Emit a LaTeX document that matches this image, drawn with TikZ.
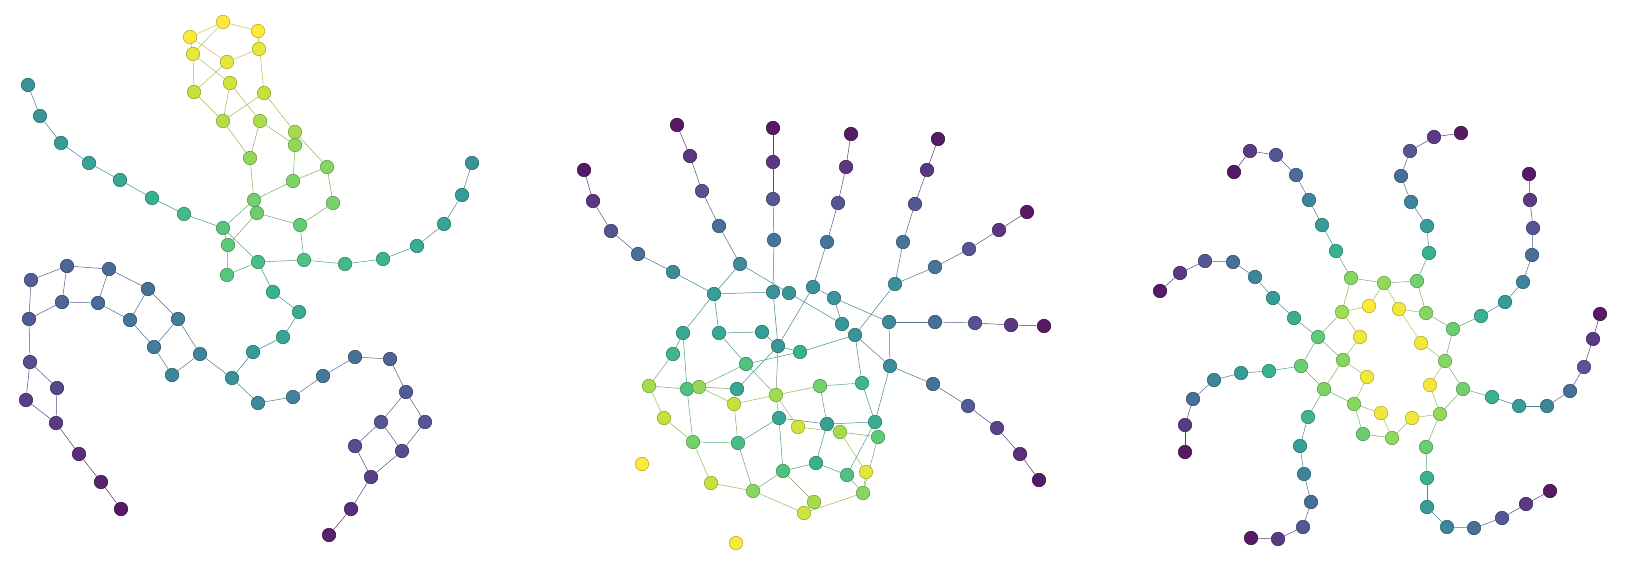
\documentclass[tikz,border=0pt]{standalone}
\usepackage{tikz}
\pgfdeclarelayer{bg}
\pgfdeclarelayer{edges}
\pgfsetlayers{bg,edges,main}
\definecolor{vir0}{HTML}{440154}
\definecolor{vir1}{HTML}{482475}
\definecolor{vir2}{HTML}{414487}
\definecolor{vir3}{HTML}{355F8D}
\definecolor{vir4}{HTML}{2A788E}
\definecolor{vir5}{HTML}{21918C}
\definecolor{vir6}{HTML}{22A884}
\definecolor{vir7}{HTML}{44BF70}
\definecolor{vir8}{HTML}{7AD151}
\definecolor{vir9}{HTML}{BDDF26}
\definecolor{vir10}{HTML}{FDE725}
\tikzset{
  nd/.style={circle,minimum size=13.5pt,inner sep=0pt,fill=#1!90!white,draw=#1!72!black,line width=0.5pt},
  ed/.style={line width=0.5pt}
}
\newcommand\Nd[4]{%
  \pgfmathtruncatemacro\vlo{min(9,floor(#4/10))}%
  \pgfmathtruncatemacro\vhi{\vlo+1}%
  \pgfmathtruncatemacro\vfr{100-(#4-10*\vlo)*10}%
  \colorlet{col#1}{vir\vlo!\vfr!vir\vhi}%
  \node[nd=col#1] (#1) at (#2,#3) {};}
\newcommand\Ed[2]{\edef\ea{#1}\edef\eb{#2}%
  \colorlet{ectmp}{col\ea!50!col\eb}%
  \draw[ed,draw=ectmp!65!gray] (\ea) -- (\eb);}
\begin{document}
\begin{tikzpicture}[x=1pt,y=-1pt]
\begin{pgfonlayer}{bg}
\fill[white] (0,0) rectangle (1626,564);
\end{pgfonlayer}
\useasboundingbox (0,0) rectangle (1626,564);
% ---------------- panel 1
\Nd{PA1}{223}{22}{100}\Nd{PA2}{190}{37}{100}\Nd{PA3}{193}{54}{96}\Nd{PA4}{227}{62}{96}
\Nd{PA5}{230}{83}{92}\Nd{PA6}{194}{92}{90}\Nd{PA7}{223}{121}{87}\Nd{PA8}{250}{158}{82}
\Nd{PB1}{258}{31}{100}\Nd{PB2}{259}{49}{96}\Nd{PB5}{264}{93}{90}\Nd{PB6}{260}{121}{86}
\Nd{PB7}{295}{132}{85}\Nd{PB8}{295}{145}{82}\Nd{PB10}{327}{167}{80}\Nd{PB11}{293}{181}{78}
\Nd{PB12}{254}{200}{76}\Nd{PB13}{333}{203}{77}\Nd{PB14}{257}{213}{75}\Nd{PB15}{300}{225}{73}
\Nd{PT8}{223}{228}{70}\Nd{PT9}{228}{245}{72}\Nd{PT10}{227}{275}{70}\Nd{PB17}{258}{262}{66}
\Nd{PB18}{304}{260}{68}\Nd{PB19}{345}{264}{64}\Nd{PB20}{383}{259}{61}\Nd{PB21}{417}{246}{58}
\Nd{PB22}{444}{224}{54}\Nd{PB23}{462}{195}{50}\Nd{PB24}{472}{163}{46}
\Nd{PT1}{28}{85}{45}\Nd{PT2}{40}{116}{47}\Nd{PT3}{61}{143}{50}\Nd{PT4}{89}{163}{53}
\Nd{PT5}{120}{180}{56}\Nd{PT6}{152}{198}{60}\Nd{PT7}{184}{214}{64}
\Nd{PD1}{273}{292}{60}\Nd{PD2}{299}{312}{57}\Nd{PD3}{283}{337}{54}\Nd{PD4}{253}{352}{50}
\Nd{PC13}{232}{378}{45}\Nd{PD6}{258}{403}{42}\Nd{PD7}{293}{397}{38}\Nd{PD8}{323}{376}{34}
\Nd{PD9}{355}{357}{30}\Nd{PD10}{390}{359}{25}\Nd{PD11}{406}{392}{22}\Nd{PD12}{381}{422}{20}
\Nd{PD13}{425}{422}{20}\Nd{PD14}{355}{446}{17}\Nd{PD15}{402}{451}{17}\Nd{PD16}{371}{477}{12}
\Nd{PD17}{351}{509}{6}\Nd{PD18}{329}{535}{2}
\Nd{PC1}{67}{266}{26}\Nd{PC2}{31}{280}{24}\Nd{PC3}{109}{269}{28}\Nd{PC4}{62}{302}{26}
\Nd{PC5}{98}{303}{28}\Nd{PC6}{148}{289}{31}\Nd{PC7}{29}{319}{22}\Nd{PC8}{130}{320}{32}
\Nd{PC9}{178}{319}{36}\Nd{PC10}{154}{347}{36}\Nd{PC11}{200}{354}{40}\Nd{PC12}{172}{375}{40}
\Nd{PC14}{30}{362}{17}\Nd{PC15}{57}{388}{15}\Nd{PC16}{26}{400}{12}\Nd{PC17}{56}{423}{10}
\Nd{PC18}{79}{454}{6}\Nd{PC19}{101}{482}{3}\Nd{PC20}{121}{509}{0}
% ---------------- panel 2
\Nd{QF1}{584}{170}{0}\Nd{QF2}{593}{201}{9}\Nd{QF3}{611}{231}{19}\Nd{QF4}{638}{254}{30}\Nd{QF5}{673}{272}{42}
\Nd{QE1}{677}{125}{0}\Nd{QE2}{690}{156}{9}\Nd{QE3}{702}{191}{19}\Nd{QE4}{719}{226}{30}\Nd{QE5}{740}{264}{42}
\Nd{QG}{714}{294}{52}
\Nd{QH1}{773}{128}{0}\Nd{QH2}{773}{162}{9}\Nd{QH3}{773}{199}{20}\Nd{QH4}{774}{240}{32}\Nd{QH5}{773}{292}{45}
\Nd{QI}{789}{293}{47}\Nd{QJ}{813}{287}{45}
\Nd{QK1}{851}{134}{0}\Nd{QK2}{846}{167}{9}\Nd{QK3}{838}{203}{20}\Nd{QK4}{827}{242}{32}
\Nd{QL}{834}{298}{47}
\Nd{QM1}{938}{139}{0}\Nd{QM2}{927}{170}{9}\Nd{QM3}{915}{204}{20}\Nd{QM4}{903}{242}{32}\Nd{QM5}{895}{284}{44}
\Nd{QN1}{1027}{212}{0}\Nd{QN2}{999}{230}{9}\Nd{QN3}{969}{249}{20}\Nd{QN4}{935}{267}{32}
\Nd{QO}{842}{324}{48}\Nd{QR}{855}{335}{46}\Nd{QP}{889}{322}{42}
\Nd{QQ1}{935}{322}{30}\Nd{QQ2}{975}{323}{19}\Nd{QQ3}{1011}{325}{9}\Nd{QQ4}{1044}{326}{0}
\Nd{QS}{890}{366}{43}
\Nd{QT1}{933}{384}{31}\Nd{QT2}{968}{406}{21}\Nd{QT3}{997}{428}{13}\Nd{QT4}{1020}{454}{7}\Nd{QT5}{1039}{480}{0}
\Nd{Qa1}{683}{333}{56}\Nd{Qa2}{719}{333}{56}\Nd{Qa3}{762}{332}{51}\Nd{Qa4}{778}{346}{47}
\Nd{Qa5}{800}{352}{60}\Nd{Qa6}{673}{354}{62}\Nd{Qa7}{746}{364}{68}\Nd{Qa8}{649}{386}{85}
\Nd{Qa9}{687}{389}{68}\Nd{Qa10}{699}{387}{82}\Nd{Qa11}{737}{389}{55}\Nd{Qa12}{820}{386}{76}
\Nd{Qa13}{776}{395}{84}\Nd{Qa14}{734}{404}{90}\Nd{Qa15}{664}{418}{90}\Nd{Qa16}{779}{418}{55}
\Nd{Qa17}{798}{427}{93}\Nd{Qa18}{693}{442}{76}\Nd{Qa19}{738}{443}{66}\Nd{Qa20}{642}{464}{100}
\Nd{Qa22}{783}{471}{68}\Nd{Qa23}{711}{483}{90}\Nd{Qa24}{753}{491}{80}\Nd{Qa27}{736}{543}{100}
\Nd{QW}{862}{383}{62}\Nd{QX}{827}{424}{52}\Nd{QY}{840}{432}{85}\Nd{QZ}{875}{422}{58}
\Nd{QAA}{878}{437}{72}\Nd{QAB}{816}{463}{60}\Nd{QAC}{847}{475}{68}\Nd{QAD}{866}{472}{95}
\Nd{QAE}{863}{493}{80}\Nd{QAF}{814}{502}{85}\Nd{QAG}{804}{513}{92}
% ---------------- panel 3
\Nd{Rp2}{1234}{172}{0}\Nd{Rp1}{1250}{151}{10}\Nd{Rp3}{1276}{155}{20}\Nd{Rp4}{1296}{175}{30}
\Nd{Rp5}{1309}{200}{40}\Nd{Rp6}{1322}{225}{50}\Nd{Rp7}{1336}{251}{60}\Nd{Rp8}{1351}{278}{80}
\Nd{Rq1}{1160}{291}{0}\Nd{Rq2}{1180}{273}{10}\Nd{Rq3}{1205}{261}{20}\Nd{Rq4}{1233}{262}{30}
\Nd{Rq5}{1255}{277}{40}\Nd{Rq6}{1273}{298}{50}\Nd{Rq7}{1294}{318}{58}\Nd{Rq8}{1318}{337}{72}
\Nd{Rr}{1384}{283}{82}\Nd{Rs}{1369}{306}{100}\Nd{Rt}{1342}{312}{84}\Nd{Ru}{1360}{337}{98}
\Nd{Rv1}{1461}{133}{0}\Nd{Rv2}{1434}{137}{10}\Nd{Rv3}{1410}{151}{20}\Nd{Rv4}{1401}{176}{30}
\Nd{Rv5}{1411}{202}{40}\Nd{Rv6}{1427}{226}{50}\Nd{Rv7}{1429}{253}{60}\Nd{Rv8}{1417}{281}{76}
\Nd{Rw}{1399}{309}{98}\Nd{Rx}{1426}{313}{80}\Nd{Ry}{1453}{329}{74}
\Nd{Rz1}{1481}{316}{60}\Nd{Rz2}{1505}{302}{50}\Nd{Rz3}{1523}{282}{40}\Nd{Rz4}{1532}{255}{30}
\Nd{Rz5}{1533}{228}{20}\Nd{Rz6}{1530}{200}{10}\Nd{Rz7}{1529}{174}{0}
\Nd{Raa1}{1600}{314}{0}\Nd{Raa2}{1593}{339}{10}\Nd{Re9}{1584}{367}{20}\Nd{Re8}{1570}{391}{30}
\Nd{Re7}{1547}{406}{40}\Nd{Re6}{1519}{406}{50}\Nd{Re5}{1492}{397}{60}\Nd{Re4}{1463}{389}{76}
\Nd{Re1}{1421}{343}{98}\Nd{Re2}{1445}{361}{80}\Nd{Re3}{1430}{385}{98}\Nd{Rf3}{1440}{414}{82}
\Nd{Rf2}{1412}{418}{98}\Nd{Rf1}{1381}{413}{98}\Nd{Rf4}{1392}{438}{82}\Nd{Rf5}{1426}{447}{74}
\Nd{Rg1}{1427}{478}{60}\Nd{Rg2}{1427}{507}{50}\Nd{Rg3}{1447}{527}{40}\Nd{Rg4}{1474}{528}{30}
\Nd{Rg5}{1502}{518}{20}\Nd{Rg6}{1526}{504}{10}\Nd{Rg7}{1550}{491}{0}
\Nd{Rb3}{1343}{360}{80}\Nd{Rb4}{1367}{377}{98}\Nd{Rb5}{1301}{366}{74}\Nd{Rb6}{1324}{389}{78}
\Nd{Rb7}{1354}{404}{80}\Nd{Rb9}{1363}{434}{74}
\Nd{Rc1}{1269}{371}{60}\Nd{Rc2}{1241}{373}{50}\Nd{Rc3}{1214}{380}{40}\Nd{Rc4}{1193}{399}{30}
\Nd{Rc5}{1185}{425}{10}\Nd{Rc6}{1185}{452}{0}
\Nd{Rd1}{1308}{417}{62}\Nd{Rd2}{1300}{446}{52}\Nd{Rd3}{1304}{474}{40}\Nd{Rd4}{1311}{502}{30}
\Nd{Rd5}{1303}{527}{20}\Nd{Rd6}{1278}{539}{10}\Nd{Rd7}{1251}{538}{0}
\begin{pgfonlayer}{edges}
\foreach \a/\b in {PA1/PA2,PA1/PB1,PA2/PA4,PA3/PA1,PA2/PA3,PA3/PA6,PA3/PA5,PA4/PA6,PA4/PB2,
  PB1/PB2,PB1/PB5,PA5/PA7,PA6/PA7,PA7/PB5,PA7/PA8,PB5/PB7,PA5/PB6,PB6/PB8,PB6/PA8,PB7/PB8,
  PB7/PB10,PB8/PB11,PB10/PB11,PB10/PB13,PB11/PB12,PB12/PA8,PB13/PB15,PB14/PB15,PB12/PT8,
  PB14/PT9,PB15/PB18,PB18/PB17,PT8/PB17,PT10/PB17,PB17/PD1,PB18/PB19,PB19/PB20,PB20/PB21,
  PB21/PB22,PB22/PB23,PB23/PB24,PT1/PT2,PT2/PT3,PT3/PT4,PT4/PT5,PT5/PT6,PT6/PT7,PT7/PT8,
  PT8/PT9,PT9/PT10,
  PC2/PC1,PC1/PC3,PC3/PC6,PC6/PC9,PC9/PC11,PC11/PC13,PC1/PC4,PC3/PC5,PC6/PC8,PC9/PC10,
  PC11/PC12,PC2/PC7,PC7/PC4,PC4/PC5,PC5/PC8,PC8/PC10,PC10/PC12,PC7/PC14,PC14/PC15,PC14/PC16,
  PC15/PC17,PC16/PC17,PC17/PC18,PC18/PC19,PC19/PC20,
  PC13/PD4,PD4/PD3,PD3/PD2,PD2/PD1,PC13/PD6,PD6/PD7,PD7/PD8,PD8/PD9,PD9/PD10,PD10/PD11,
  PD11/PD12,PD11/PD13,PD12/PD14,PD12/PD15,PD13/PD15,PD14/PD16,PD15/PD16,PD16/PD17,PD17/PD18}
  {\Ed{\a}{\b}}
\foreach \a/\b in {QF1/QF2,QF2/QF3,QF3/QF4,QF4/QF5,QF5/QG,QE1/QE2,QE2/QE3,QE3/QE4,QE4/QE5,
  QE5/QG,QE5/QI,QH1/QH2,QH2/QH3,QH3/QH4,QH4/QH5,QG/QH5,QH5/Qa4,QK1/QK2,QK2/QK3,QK3/QK4,
  QK4/QJ,QJ/QL,QJ/Qa4,QM1/QM2,QM2/QM3,QM3/QM4,QM4/QM5,QM5/QR,QM5/QN4,QN4/QN3,QN3/QN2,
  QN2/QN1,QL/QO,QL/QP,QI/QO,QP/QQ1,QQ1/QQ2,QQ2/QQ3,QQ3/QQ4,QP/QS,QR/QS,QS/QT1,QT1/QT2,
  QT2/QT3,QT3/QT4,QT4/QT5,QR/Qa5,QR/QW,QS/QZ,QW/QZ,QW/Qa12,Qa12/QX,QX/QZ,QX/Qa16,QY/Qa17,
  QY/QAA,QY/QAD,QX/QAB,QAB/QAC,QZ/QAC,QAC/QAE,QAD/QAE,QAA/QAE,QAF/QAG,QAG/QAE,QAB/Qa22,
  QG/Qa1,QG/Qa2,Qa1/Qa6,Qa1/Qa9,Qa2/Qa3,Qa2/Qa7,Qa3/Qa4,Qa4/Qa5,Qa4/Qa11,Qa4/Qa13,
  Qa7/Qa5,Qa7/Qa13,Qa7/Qa10,Qa6/Qa8,Qa8/Qa9,Qa9/Qa10,Qa10/Qa11,Qa10/Qa14,Qa9/Qa18,
  Qa8/Qa15,Qa15/Qa18,Qa18/Qa19,Qa19/Qa14,Qa14/Qa13,Qa13/Qa12,Qa13/Qa16,Qa16/Qa19,
  Qa16/Qa22,Qa13/Qa17,Qa22/Qa24,Qa24/Qa19,Qa24/Qa23,Qa23/Qa18,Qa24/QAG,Qa22/QAF}
  {\Ed{\a}{\b}}
\foreach \a/\b in {Rp2/Rp1,Rp1/Rp3,Rp3/Rp4,Rp4/Rp5,Rp5/Rp6,Rp6/Rp7,Rp7/Rp8,
  Rq1/Rq2,Rq2/Rq3,Rq3/Rq4,Rq4/Rq5,Rq5/Rq6,Rq6/Rq7,Rq7/Rq8,
  Rv1/Rv2,Rv2/Rv3,Rv3/Rv4,Rv4/Rv5,Rv5/Rv6,Rv6/Rv7,Rv7/Rv8,
  Rz7/Rz6,Rz6/Rz5,Rz5/Rz4,Rz4/Rz3,Rz3/Rz2,Rz2/Rz1,Rz1/Ry,
  Raa1/Raa2,Raa2/Re9,Re9/Re8,Re8/Re7,Re7/Re6,Re6/Re5,Re5/Re4,
  Rc6/Rc5,Rc5/Rc4,Rc4/Rc3,Rc3/Rc2,Rc2/Rc1,Rc1/Rb5,
  Rd7/Rd6,Rd6/Rd5,Rd5/Rd4,Rd4/Rd3,Rd3/Rd2,Rd2/Rd1,
  Rg7/Rg6,Rg6/Rg5,Rg5/Rg4,Rg4/Rg3,Rg3/Rg2,Rg2/Rg1,Rg1/Rf5,
  Rp8/Rr,Rp8/Rt,Rr/Rv8,Rr/Rs,Rs/Rt,Rt/Rq8,Rt/Ru,Ru/Rb3,Rq8/Rb3,Rq8/Rb5,Rb5/Rb6,Rb3/Rb6,
  Rb3/Rb4,Rb6/Rd1,Rb6/Rb7,Rb4/Rb7,Rb7/Rf1,Rb7/Rb9,Rb9/Rf4,Rf1/Rf4,Rf4/Rf2,Rf2/Rf3,
  Rf3/Re3,Rf3/Re4,Rf3/Rf5,Re3/Re2,Re2/Re4,Re2/Ry,Re2/Re1,Re1/Rw,Rx/Ry,Rx/Rw,Rx/Rv8,Rw/Rr}
  {\Ed{\a}{\b}}
\end{pgfonlayer}
\end{tikzpicture}
\end{document}
